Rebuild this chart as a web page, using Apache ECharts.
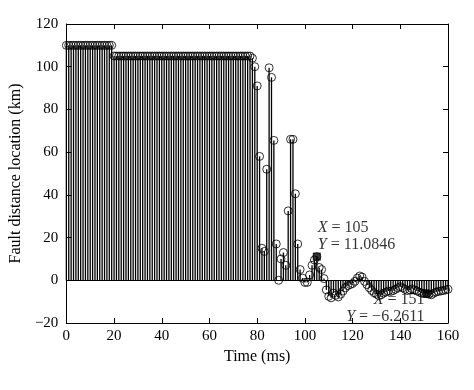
<!DOCTYPE html>
<html>
<head>
<meta charset="utf-8">
<script src="https://cdn.jsdelivr.net/npm/echarts@6/dist/echarts.min.js"></script>
<style>
  html, body { margin: 0; padding: 0; background: #fff; }
  #chart { width: 474px; height: 390px; }
</style>
</head>
<body>
<div id="chart"></div>
<script>
// samples every 1 ms, t = 0 .. 160
const faultDistance = [
  110, 110, 110, 110, 110, 110, 110, 110, 110, 110,
  110, 110, 110, 110, 110, 110, 110, 110, 110, 110,
  105, 105, 105, 105, 105, 105, 105, 105, 105, 105,
  105, 105, 105, 105, 105, 105, 105, 105, 105, 105,
  105, 105, 105, 105, 105, 105, 105, 105, 105, 105,
  105, 105, 105, 105, 105, 105, 105, 105, 105, 105,
  105, 105, 105, 105, 105, 105, 105, 105, 105, 105,
  105, 105, 105, 105, 105, 105, 105, 105,
  104, 100, 91, 58, 15, 13.5, 52, 99.5, 95, 65.5,
  17, 0, 10, 13, 7, 32.5, 66, 66, 40.5, 17,
  5, 1, -1, -1, 2.5, 7, 9.5, 11.0846, 6, 5,
  0.8,
  -4.5, -7.5, -8.2, -6.0, -7.0, -7.8, -6.5, -5.0, -3.5, -2.5,
  -2.0, -1.5, -0.5, 1.0, 2.0, 1.5, -0.5, -2.0, -3.5, -4.8,
  -5.8, -6.5, -7.2, -6.8, -6.0, -5.5, -5.0, -5.2, -4.8, -4.2,
  -3.5, -3.0, -3.5, -4.2, -4.8, -4.5, -4.0, -4.5, -5.0, -5.5,
  -6.0, -6.2, -6.2611, -6.5, -6.8, -6.0, -5.5, -5.2, -5.0, -4.8,
  -4.5, -4.2
]
const sampleStep = 1

// data cursors
const cursorTimes = [105, 151]
const cursorValues = [11.0846, -6.2611]

const xTicks = { min: 0, max: 160, interval: 20 }
const yTicks = { min: -20, max: 120, interval: 20 }

const points = faultDistance.map((v, i) => [i * sampleStep, v])

const serif = 'Liberation Serif'
const chart = echarts.init(document.getElementById('chart'))

function fmt(v) {
  return String(v).replace('-', '\u2212')
}

const richText = {
  i: { fontFamily: serif, fontSize: 16, fontStyle: 'italic', color: '#000', lineHeight: 17 },
  n: { fontFamily: serif, fontSize: 16, color: '#000', lineHeight: 17 }
}

const axisCommon = {
  axisLine: { show: true, onZero: false, lineStyle: { color: '#000', width: 1 } },
  axisTick: { show: true, inside: true, length: 5, lineStyle: { color: '#000' } },
  splitLine: { show: false }
}

const option = {
  animation: false,
  backgroundColor: '#fff',
  grid: { left: 66, right: 26, top: 24, bottom: 67 },
  xAxis: [
    Object.assign({
      type: 'value',
      min: xTicks.min, max: xTicks.max, interval: xTicks.interval,
      name: 'Time (ms)',
      nameLocation: 'middle',
      nameGap: 26,
      nameTextStyle: { fontFamily: serif, fontSize: 16, color: '#000' },
      axisLabel: { fontFamily: serif, fontSize: 15, color: '#000', margin: 6 }
    }, axisCommon),
    Object.assign({
      type: 'value', position: 'top',
      min: xTicks.min, max: xTicks.max, interval: xTicks.interval,
      axisLabel: { show: false }
    }, axisCommon)
  ],
  yAxis: [
    Object.assign({
      type: 'value',
      min: yTicks.min, max: yTicks.max, interval: yTicks.interval,
      name: 'Fault distance location (km)',
      nameLocation: 'middle',
      nameGap: 27,
      nameTextStyle: { fontFamily: serif, fontSize: 16, color: '#000' },
      axisLabel: {
        fontFamily: serif, fontSize: 15, color: '#000', margin: 8,
        formatter: v => fmt(v)
      }
    }, axisCommon),
    Object.assign({
      type: 'value', position: 'right',
      min: yTicks.min, max: yTicks.max, interval: yTicks.interval,
      axisLabel: { show: false }
    }, axisCommon)
  ],
  series: [
    {
      // stems
      type: 'custom',
      silent: true,
      data: points,
      renderItem: function (params, api) {
        const t = api.value(0)
        const v = api.value(1)
        const p0 = api.coord([t, 0])
        const p1 = api.coord([t, v])
        return {
          type: 'line',
          shape: { x1: p0[0], y1: p0[1], x2: p1[0], y2: p1[1] },
          style: { stroke: '#000', lineWidth: 1.3 }
        }
      },
      z: 2
    },
    {
      // stem markers
      type: 'scatter',
      data: points,
      symbol: 'circle',
      symbolSize: 8,
      itemStyle: { color: 'rgba(0,0,0,0)', borderColor: '#000', borderWidth: 1 },
      markLine: {
        silent: true,
        symbol: 'none',
        label: { show: false },
        lineStyle: { color: '#000', width: 1, type: 'solid' },
        data: [{ yAxis: 0 }]
      },
      z: 3
    },
    {
      // data cursors
      type: 'scatter',
      symbol: 'rect',
      symbolSize: 8,
      itemStyle: { color: '#000' },
      data: [
        {
          value: [cursorTimes[0], cursorValues[0]],
          label: {
            show: true,
            position: [5, -33],
            align: 'left',
            verticalAlign: 'top',
            formatter: '{i|X}{n| = ' + cursorTimes[0] + '}\n{i|Y}{n| = ' + fmt(cursorValues[0]) + '}',
            rich: richText
          }
        },
        {
          value: [cursorTimes[1], cursorValues[1]],
          label: {
            show: true,
            position: [2, 2],
            align: 'right',
            verticalAlign: 'top',
            formatter: '{i|X}{n| = ' + cursorTimes[1] + '}\n{i|Y}{n| = ' + fmt(cursorValues[1]) + '}',
            rich: richText
          }
        }
      ],
      z: 4
    }
  ]
}

chart.setOption(option)
</script>
</body>
</html>
